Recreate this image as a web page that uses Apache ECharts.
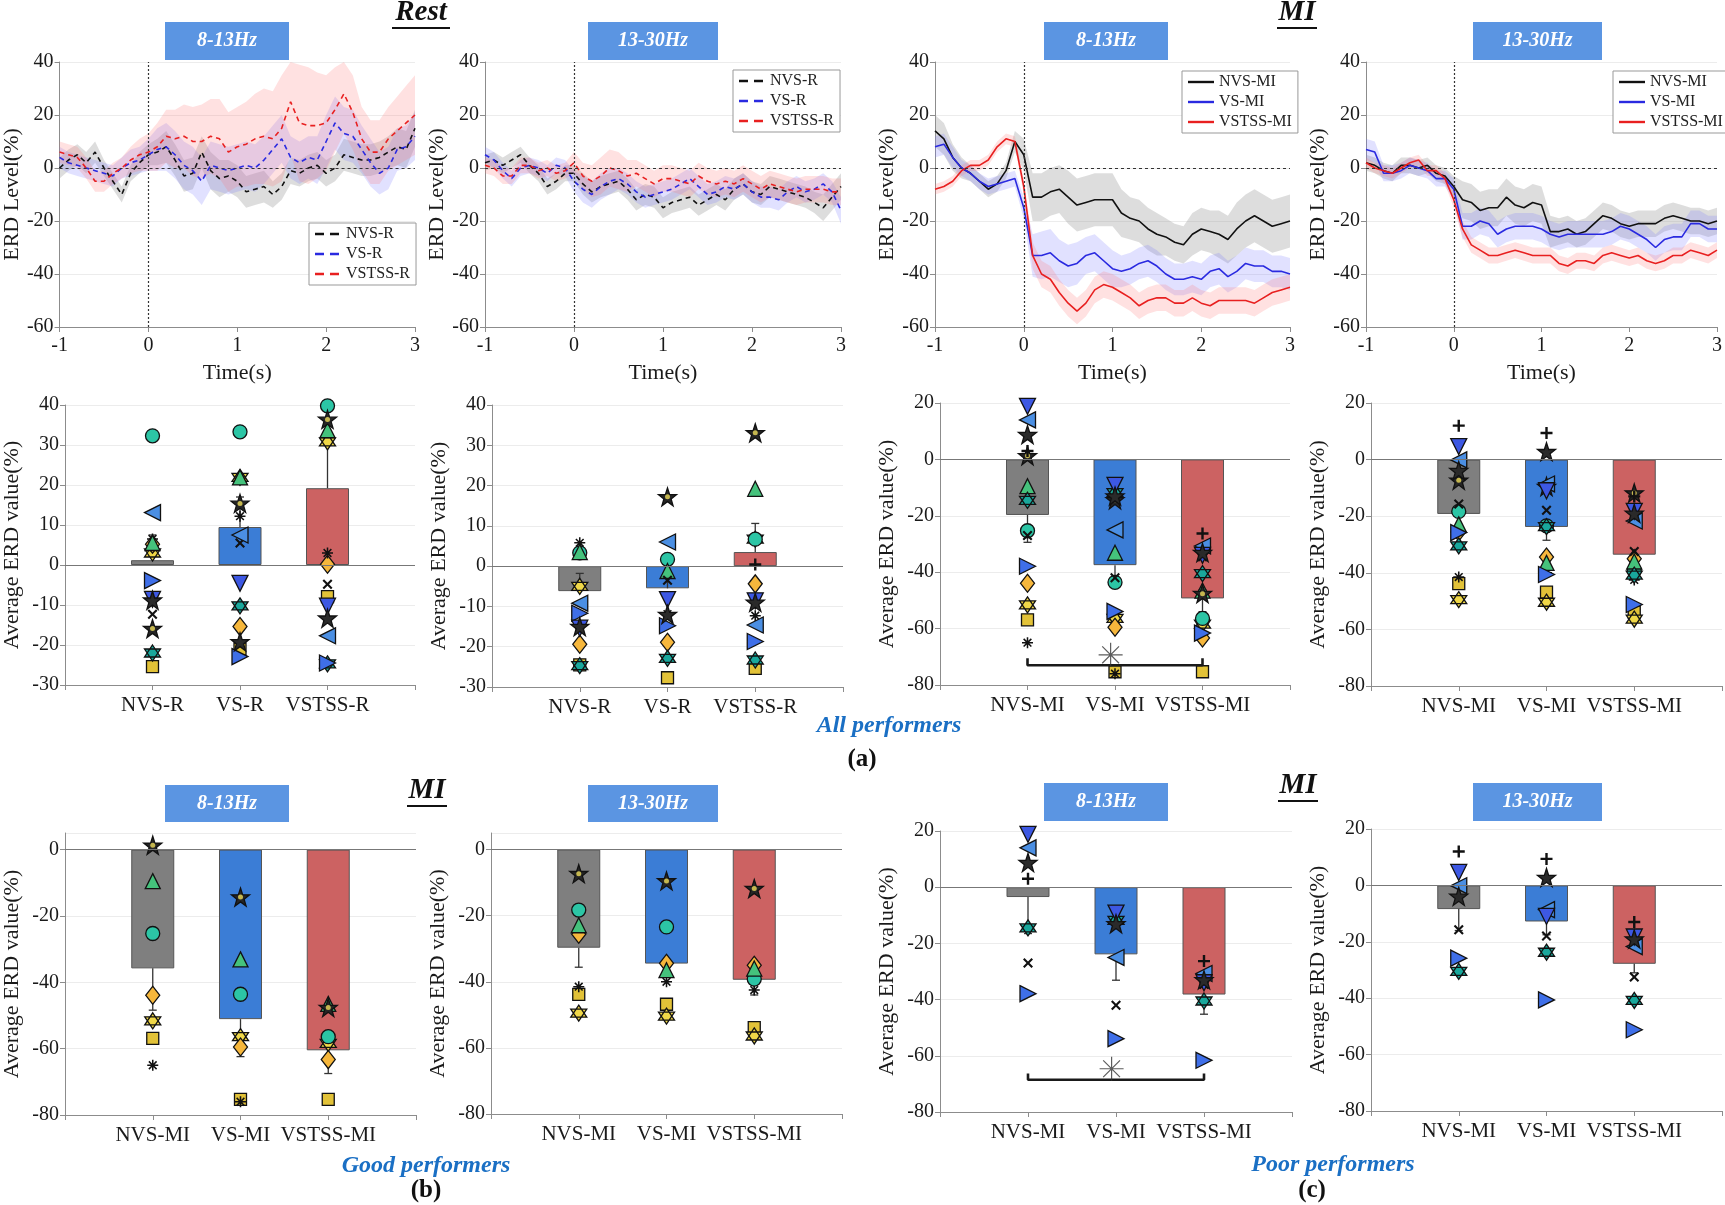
<!DOCTYPE html>
<html>
<head>
<meta charset="utf-8">
<script src="https://cdn.jsdelivr.net/npm/echarts@6/dist/echarts.min.js"></script>
<style>
  html, body { margin: 0; background: #fff; }
  #main { width: 1725px; height: 1205px; }
</style>
</head>
<body>
<div id="main"></div>
<script>
var SERIF = 'Liberation Serif';

// ---- time courses (ERD %), sampled every 0.1 s from -1 to 3 s ----
var times = [-1,-0.9,-0.8,-0.7,-0.6,-0.5,-0.4,-0.3,-0.2,-0.1, 0,
  0.1,0.2,0.3,0.4,0.5,0.6,0.7,0.8,0.9,1, 1.1,1.2,1.3,1.4,1.5,1.6,1.7,1.8,1.9,2,
  2.1,2.2,2.3,2.4,2.5,2.6,2.7,2.8,2.9,3];

var restAlphaNVS   = [0,3,5,2,6,0,-5,-10,-2,2, 5, 6,8,3,-3,-2,6,-1,-4,-3,-5, -9,-8,-7,-10,-7,-1,-2,0,1,-2, 0,5,4,3,3,4,6,8,7,15];
var restAlphaVS    = [4,2,1,0,-1,-2,-3,0,2,3, 5, 7,8,5,1,-1,-5,1,0,-1,0, 1,0,3,7,11,4,2,4,3,10, 17,13,12,7,2,-2,0,7,8,12];
var restAlphaVSTSS = [6,5,4,0,-5,-5,-2,0,3,5, 6, 8,12,11,12,10,10,12,11,6,8, 9,11,12,11,15,25,17,16,16,17, 22,28,21,11,6,6,11,14,17,20];
var restAlphaBandNVS   = [4,4,4,4,4,3,3,3,3,4, 4, 5,6,6,6,6,6,7,7,6,6, 6,6,6,5,5,5,5,5,5,5, 5,6,6,6,6,6,6,7,7,7];
var restAlphaBandVS    = [4,4,4,4,4,4,4,4,5,5, 6, 8,9,9,9,9,9,9,9,9,9, 9,9,9,9,9,8,8,8,9,10, 10,10,10,9,9,8,8,8,8,9];
var restAlphaBandVSTSS = [4,4,4,4,4,4,4,4,5,6, 7, 9,10,11,12,13,14,14,15,15,15, 16,17,18,18,20,20,22,22,20,18, 16,15,14,12,12,12,12,13,14,15];

var restBetaNVS   = [2,3,1,3,5,1,-2,-7,-5,-2, -2, -6,-9,-7,-6,-5,-8,-12,-10,-11,-15, -13,-12,-11,-14,-12,-10,-12,-8,-6,-9, -10,-7,-8,-9,-10,-11,-13,-15,-11,-7];
var restBetaVS    = [5,3,-1,-4,0,1,0,-2,1,0, -5, -8,-10,-7,-5,-4,-6,-9,-11,-10,-9, -8,-6,-4,-7,-10,-9,-7,-8,-6,-9, -11,-11,-12,-9,-7,-9,-8,-6,-9,-16];
var restBetaVSTSS = [1,0,-3,-3,1,1,-1,0,-2,-1, 2, -3,-5,-3,0,-1,-3,-2,-4,-6,-4, -4,-5,-6,-3,-5,-6,-5,-6,-4,-6, -8,-6,-7,-8,-9,-8,-8,-8,-9,-9];
var restBetaBandNVS   = [3,3,3,3,3,3,3,3,3,3, 3, 4,4,4,4,4,4,4,4,4,4, 4,4,4,4,4,4,4,4,4,4, 4,4,4,4,4,4,4,5,5,5];
var restBetaBandVS    = [3,3,3,3,3,3,3,3,3,3, 4, 5,5,5,5,4,4,4,4,4,4, 4,4,4,4,4,4,4,4,4,4, 4,4,4,4,4,4,4,4,4,5];
var restBetaBandVSTSS = [3,3,3,3,3,3,3,3,3,3, 4, 5,6,7,7,7,6,5,5,5,5, 5,5,5,5,5,5,5,5,5,5, 5,5,5,5,5,5,5,5,5,5];

var miAlphaNVS   = [14,11,4,0,-2,-5,-8,-6,-1,10, 5, -11,-11,-9,-8,-11,-14,-13,-12,-12,-12, -17,-19,-20,-23,-25,-26,-28,-29,-25,-23, -24,-25,-27,-23,-20,-18,-20,-22,-21,-20];
var miAlphaVS    = [8,9,4,0,-2,-5,-7,-6,-5,-4, -15, -33,-33,-32,-35,-37,-36,-33,-32,-35,-38, -39,-38,-36,-35,-37,-40,-42,-42,-41,-42, -39,-38,-41,-39,-36,-37,-37,-39,-39,-40];
var miAlphaVSTSS = [-8,-7,-5,-1,1,1,3,8,11,10, -7, -33,-40,-42,-47,-51,-54,-51,-46,-44,-45, -47,-49,-52,-50,-49,-49,-51,-51,-49,-51, -52,-50,-50,-50,-50,-51,-49,-47,-46,-45];
var miAlphaBandNVS   = [6,6,5,4,3,3,3,3,3,4, 6, 9,9,9,9,10,10,10,10,10,10, 9,8,8,8,8,7,7,7,8,8, 8,9,9,10,10,10,10,10,10,10];
var miAlphaBandVS    = [4,4,4,3,3,3,3,3,3,3, 4, 8,9,9,8,8,8,7,7,7,7, 6,6,6,6,6,6,6,6,6,6, 6,6,6,6,6,6,6,6,6,6];
var miAlphaBandVSTSS = [2,2,2,2,2,2,2,2,2,2, 3, 5,5,5,5,5,5,5,5,5,5, 5,5,5,5,5,5,5,5,5,5, 5,5,5,5,5,5,5,5,5,5];

var miBetaNVS   = [2,1,-1,-2,1,1,0,1,-2,-3, -7, -12,-13,-16,-15,-15,-11,-14,-15,-13,-14, -24,-24,-23,-25,-24,-21,-18,-19,-21,-22, -21,-21,-21,-19,-18,-19,-20,-20,-21,-20];
var miBetaVS    = [7,6,-2,-2,-1,1,0,-1,-4,-4, -8, -22,-22,-20,-21,-25,-23,-22,-22,-22,-23, -25,-26,-25,-25,-25,-25,-25,-24,-22,-23, -25,-27,-30,-27,-26,-26,-21,-21,-23,-23];
var miBetaVSTSS = [2,0,-1,-2,0,2,3,-1,-1,-4, -12, -23,-29,-31,-33,-33,-32,-31,-32,-33,-33, -33,-36,-37,-35,-35,-36,-33,-32,-33,-34, -33,-35,-36,-35,-33,-33,-31,-32,-33,-31];
var miBetaBandNVS   = [3,3,3,3,3,3,3,3,3,3, 4, 7,7,7,7,7,7,7,7,7,7, 6,5,5,5,5,5,5,5,5,5, 5,5,5,5,5,5,5,5,5,5];
var miBetaBandVS    = [4,4,3,3,3,3,3,3,3,3, 4, 5,5,5,5,5,5,5,5,5,5, 5,5,5,5,5,5,5,5,5,5, 5,5,5,5,5,5,5,5,5,5];
var miBetaBandVSTSS = [2,2,2,2,2,2,2,2,2,2, 3, 3,3,3,3,3,3,3,3,3,3, 3,3,3,3,3,3,3,3,3,3, 3,3,3,3,3,3,3,3,3,3];

// ---- average ERD per condition (bars), whisker end values ----
var restLabels = ['NVS-R', 'VS-R', 'VSTSS-R'];
var miLabels = ['NVS-MI', 'VS-MI', 'VSTSS-MI'];

var restAlphaMean = [1.2, 9.5, 19.2],      restAlphaErr = [7.5, 17, 30.8];
var restBetaMean  = [-6.2, -5.5, 3.5],     restBetaErr  = [-1.8, -1.5, 10.6];
var allAlphaMean  = [-19.7, -37.5, -49.3], allAlphaErr  = [-29.4, -42.5, -54];
var allBetaMean   = [-19.2, -23.8, -33.6], allBetaErr   = [-24, -28.5, -38];
var goodAlphaMean = [-35.8, -51.1, -60.5], goodAlphaErr = [-48.4, -62.4, -67.5];
var goodBetaMean  = [-29.7, -34.5, -39.4], goodBetaErr  = [-35.6, -38.5, -44];
var poorAlphaMean = [-3.5, -23.9, -38.2],  poorAlphaErr = [-16.5, -33.1, -45.2];
var poorBetaMean  = [-8.4, -12.8, -27.8],  poorBetaErr  = [-16, -17.5, -31];

// ---- individual subjects: [NVS, VS, VSTSS] ----
var restAlphaPts = {
  circle: [32.3, 33.3, 39.8], triUp: [5.5, 21.9, 33.7], starY: [-15.9, 15.4, 36.4],
  hexY: [3, 21.9, 30.8], diamond: [5.2, -15.4, 0.2], square: [-25.4, -21, -7.9],
  asterisk: [6.5, 12.2, 3], triLeft: [13.1, 7.5, -17.7], triRight: [-3.9, -22.9, -24.5],
  triDown: [-8.6, -4.6, -10.3], starK: [-8.8, -19.2, -13.3], cross: [-12.3, 5.5, -4.8],
  hexT: [-22, -10.2, -24.7]
};
var restBetaPts = {
  circle: [3.3, 1.7, 6.7], triUp: [3.5, -1.2, 19.2], starY: [null, 17.2, 33.1],
  hexY: [-5, null, 6.7], diamond: [-19.4, -18.9, -4.4], square: [-24.5, -27.7, -25.4],
  asterisk: [5.8, -11.9, -12.3], triLeft: [-9.2, 6, -14.6], triRight: [-11.7, -14.8, -18.7],
  triDown: [-15.4, -8.3, -8.6], starK: [-15, -12, -9], cross: [null, -3.5, null],
  hexT: [-24.7, -22.9, -23.3], plus: [null, null, 0.4]
};
var goodAlphaPts = {
  starY: [1.3, -14.3, -47.6], triUp: [-9.5, -33.1, -46.5], circle: [-25.3, -43.6, -56.4],
  diamond: [-43.9, -59.5, -63.3], hexY: [-51.6, -56.4, -58.4], square: [-56.9, -75.3, -75.3],
  asterisk: [-65, -76, -47.5]
};
var goodBetaPts = {
  starY: [-7.3, -9.5, -11.8], triUp: [-22.9, -36.5, -36], circle: [-18.3, -23.4, -39.2],
  diamond: [-25.6, -34.4, -35], hexY: [-49.5, -50.4, -56.4], square: [-43.8, -46.8, -53.9],
  asterisk: [-41.5, -40, -42.5]
};
var poorAlphaPts = {
  plus: [3, -12, -26.3], triDown: [18.8, -9.2, -34], triLeft: [14, -25, -30.7],
  starK: [8.8, -13, -33], cross: [-27, -42, -34.5], triRight: [-37.9, -53.9, -61.6],
  hexT: [-14.5, -11.8, -40.5]
};
var poorBetaPts = {
  plus: [12, 9.4, -13], triDown: [4.6, -11, -18.3], triLeft: [-0.1, -8.6, -21.7],
  starK: [-3.9, 2.8, -19], cross: [-15.7, -17.9, -32.5], triRight: [-25.8, -40.6, -51.2],
  hexT: [-30.5, -23.7, -40.8]
};

// significance brackets (NVS vs VSTSS)
var allAlphaSig  = { low: -73, tip: -70.5, star: -69.3 };
var poorAlphaSig = { low: -68.5, tip: -66.3, star: -64.6 };

// ---- styles ----
var PATHS = {
  triDown: 'path://M0,0L10,0L5,9Z',
  triLeft: 'path://M9,0L9,10L0,5Z',
  triRight: 'path://M0,0L9,5L0,10Z',
  star: 'path://M5,0L6.2,3.6L10,3.6L7,5.9L8.1,9.5L5,7.3L1.9,9.5L3,5.9L0,3.6L3.8,3.6Z',
  hex: 'path://M5,0L9.33,7.5L0.67,7.5Z M5,10L0.67,2.5L9.33,2.5Z',
  cross: 'path://M0,1.5L1.5,0L5,3.5L8.5,0L10,1.5L6.5,5L10,8.5L8.5,10L5,6.5L1.5,10L0,8.5L3.5,5Z',
  plus: 'path://M4,0H6V4H10V6H6V10H4V6H0V4H4Z',
  asterisk: 'path://M4.3,0H5.7V4.3H10V5.7H5.7V10H4.3V5.7H0V4.3H4.3Z M1,2L2,1L5,4L8,1L9,2L6,5L9,8L8,9L5,6L2,9L1,8L4,5Z',
  spark: 'path://M5,0L5,10M0,5L10,5M1.5,1.5L8.5,8.5M8.5,1.5L1.5,8.5'
};
var LEGEND_SOLID = 'path://M0,0H26V2.4H0Z';
var LEGEND_DASH = 'path://M0,0H9V2.4H0Z M15,0H24V2.4H15Z M26,0H26.01V2.4H26Z';

var subjStyle = {
  circle:   { symbol: 'circle', size: 14, color: '#2cc5a5' },
  triUp:    { symbol: 'triangle', size: 15, color: '#45c27c' },
  starY:    { symbol: PATHS.star, size: 18, color: '#262626', dot: '#eedc5a' },
  hexY:     { symbol: PATHS.hex, size: 16, color: '#f0d848' },
  diamond:  { symbol: 'diamond', size: [14, 18], color: '#f6b73c' },
  square:   { symbol: 'rect', size: 12, color: '#e2c238' },
  asterisk: { symbol: PATHS.asterisk, size: 11, color: '#111', bw: 0 },
  plus:     { symbol: PATHS.plus, size: 12, color: '#111', bw: 0 },
  triDown:  { symbol: PATHS.triDown, size: 16, color: '#3d58e3' },
  triLeft:  { symbol: PATHS.triLeft, size: 16, color: '#4b8fe3' },
  triRight: { symbol: PATHS.triRight, size: 16, color: '#3f6fe8' },
  starK:    { symbol: PATHS.star, size: 18, color: '#2a2a2a' },
  cross:    { symbol: PATHS.cross, size: 10, color: '#111', bw: 0 },
  hexT:     { symbol: PATHS.hex, size: 16, color: '#19a89c' }
};
var subjOrder = ['square','hexY','diamond','asterisk','circle','triUp','starY',
                 'cross','plus','hexT','triRight','triLeft','triDown','starK'];
var barColors = ['#7f7f7f', '#3b7dd6', '#cc6262'];
var lineColors = ['#111111', '#2a2ae0', '#e82020'];
var bandColors = ['rgba(150,150,150,0.32)', 'rgba(120,120,255,0.22)', 'rgba(255,120,120,0.22)'];

var grids = [], xAxes = [], yAxes = [], series = [], legends = [], graphics = [];

function axisLine() { return { show: true, onZero: false, lineStyle: { color: '#8c8c8c', width: 1 } }; }
function axisTick() { return { show: true, length: 5, lineStyle: { color: '#8c8c8c' } }; }
function labelFont(extra) {
  var o = { color: '#1a1a1a', fontFamily: SERIF, fontSize: 20 };
  for (var k in extra) o[k] = extra[k];
  return o;
}
var nameFont = { color: '#1a1a1a', fontFamily: SERIF, fontSize: 22 };

function addLinePanel(box, lines, bands, names, dashed, legendPos) {
  var gi = grids.length;
  grids.push({ left: box[0], top: box[1], width: box[2], height: box[3] });
  xAxes.push({
    gridIndex: gi, type: 'value', min: -1, max: 3, interval: 1,
    name: 'Time(s)', nameLocation: 'middle', nameGap: 35, nameTextStyle: nameFont,
    axisLine: axisLine(), axisTick: axisTick(), splitLine: { show: false },
    axisLabel: labelFont({ margin: 9 })
  });
  yAxes.push({
    gridIndex: gi, type: 'value', min: -60, max: 40, interval: 20,
    name: 'ERD Level(%)', nameLocation: 'middle', nameGap: 36, nameTextStyle: nameFont,
    axisLine: axisLine(), axisTick: axisTick(),
    splitLine: { lineStyle: { color: '#ececec' } },
    axisLabel: labelFont({ margin: 6 })
  });
  lines.forEach(function (arr, k) {
    var hw = bands[k];
    series.push({
      type: 'custom', xAxisIndex: gi, yAxisIndex: gi, silent: true, z: 1,
      data: times.map(function (t, i) { return [t, arr[i]]; }),
      renderItem: function (params, api) {
        if (params.dataIndex !== 0) return null;
        var up = [], lo = [];
        for (var i = 0; i < times.length; i++) {
          up.push(api.coord([times[i], Math.min(40, arr[i] + hw[i])]));
          lo.push(api.coord([times[i], Math.max(-60, arr[i] - hw[i])]));
        }
        return { type: 'polygon', shape: { points: up.concat(lo.reverse()) },
                 style: { fill: bandColors[k] } };
      }
    });
  });
  lines.forEach(function (arr, k) {
    var s = {
      type: 'line', name: names[k], xAxisIndex: gi, yAxisIndex: gi, z: 3,
      symbol: 'none', showSymbol: false,
      data: times.map(function (t, i) { return [t, arr[i]]; }),
      lineStyle: { color: lineColors[k], width: 1.6, type: dashed ? [5, 4] : 'solid' },
      itemStyle: { color: lineColors[k] }
    };
    if (k === 0) {
      s.markLine = {
        silent: true, symbol: ['none', 'none'], label: { show: false },
        data: [
          { yAxis: 0, lineStyle: { type: [3, 3], color: '#333', width: 1 } },
          { xAxis: 0, lineStyle: { type: [2, 2], color: '#333', width: 1.2 } }
        ]
      };
    }
    series.push(s);
  });
  legends.push({
    left: legendPos[0], top: legendPos[1], orient: 'vertical',
    data: names.map(function (n) { return { name: n, icon: dashed ? LEGEND_DASH : LEGEND_SOLID }; }),
    itemWidth: 26, itemHeight: 14, itemGap: 4, padding: [3, 6, 3, 6],
    borderColor: '#999', borderWidth: 1, backgroundColor: '#fff', selectedMode: false,
    textStyle: { fontFamily: SERIF, fontSize: 16, color: '#222' }
  });
}

function addBarPanel(box, yr, labels, means, errs, pts, sig) {
  var gi = grids.length;
  grids.push({ left: box[0], top: box[1], width: box[2], height: box[3] });
  xAxes.push({
    gridIndex: gi, type: 'value', min: 0, max: 4, interval: 1,
    axisLine: axisLine(), axisTick: axisTick(), splitLine: { show: false },
    axisLabel: labelFont({ fontSize: 21, margin: 10, formatter: function (v) { return labels[v - 1] || ''; } })
  });
  yAxes.push({
    gridIndex: gi, type: 'value', min: yr[0], max: yr[1], interval: yr[2],
    name: 'Average ERD value(%)', nameLocation: 'middle', nameGap: 42, nameTextStyle: nameFont,
    axisLine: axisLine(), axisTick: axisTick(),
    splitLine: { lineStyle: { color: '#ececec' } },
    axisLabel: labelFont({ margin: 6, showMaxLabel: yr[3] })
  });
  series.push({
    type: 'bar', xAxisIndex: gi, yAxisIndex: gi, barWidth: 43, z: 2,
    data: means.map(function (m, i) {
      return { value: [i + 1, m], itemStyle: { color: barColors[i] } };
    }),
    itemStyle: { borderColor: '#555', borderWidth: 1 },
    markLine: {
      silent: true, symbol: ['none', 'none'], label: { show: false },
      lineStyle: { type: 'solid', color: '#777', width: 1 },
      data: [{ yAxis: 0 }]
    }
  });
  series.push({
    type: 'custom', xAxisIndex: gi, yAxisIndex: gi, z: 3, silent: true,
    data: means.map(function (m, i) { return [i + 1, m, errs[i]]; }),
    renderItem: function (params, api) {
      var a = api.coord([api.value(0), api.value(1)]);
      var b = api.coord([api.value(0), api.value(2)]);
      var st = { stroke: '#333', lineWidth: 1.3 };
      return { type: 'group', children: [
        { type: 'line', shape: { x1: a[0], y1: a[1], x2: b[0], y2: b[1] }, style: st },
        { type: 'line', shape: { x1: b[0] - 4, y1: b[1], x2: b[0] + 4, y2: b[1] }, style: st }
      ] };
    }
  });
  subjOrder.forEach(function (key) {
    var vals = pts[key];
    if (!vals) return;
    var st = subjStyle[key];
    var data = [];
    vals.forEach(function (v, i) { if (v !== null) data.push([i + 1, v]); });
    series.push({
      type: 'scatter', xAxisIndex: gi, yAxisIndex: gi, z: 4, silent: true,
      symbol: st.symbol, symbolSize: st.size, data: data,
      itemStyle: { color: st.color, borderColor: '#111',
                   borderWidth: st.bw === undefined ? 1.3 : st.bw, opacity: 1 }
    });
    if (st.dot) {
      series.push({
        type: 'scatter', xAxisIndex: gi, yAxisIndex: gi, z: 4, silent: true,
        symbol: 'circle', symbolSize: 5, data: data,
        itemStyle: { color: st.dot, borderWidth: 0 }
      });
    }
  });
  if (sig) {
    series.push({
      type: 'line', xAxisIndex: gi, yAxisIndex: gi, z: 5, symbol: 'none', silent: true,
      data: [[1, sig.tip], [1, sig.low], [3, sig.low], [3, sig.tip]],
      lineStyle: { color: '#1a1a1a', width: 2.6 }
    });
    series.push({
      type: 'scatter', xAxisIndex: gi, yAxisIndex: gi, z: 5, silent: true,
      symbol: PATHS.spark, symbolSize: 24, data: [[1.95, sig.star]],
      itemStyle: { color: 'rgba(0,0,0,0)', borderColor: '#333', borderWidth: 1.2 }
    });
  }
}

function merge(a, b) {
  var o = {}, k;
  for (k in a) o[k] = a[k];
  for (k in b) o[k] = b[k];
  return o;
}

// ---- panels ----
addLinePanel([59, 62, 356, 265], [restAlphaNVS, restAlphaVS, restAlphaVSTSS],
  [restAlphaBandNVS, restAlphaBandVS, restAlphaBandVSTSS], restLabels, true, [309, 223]);
addLinePanel([485, 62, 356, 265], [restBetaNVS, restBetaVS, restBetaVSTSS],
  [restBetaBandNVS, restBetaBandVS, restBetaBandVSTSS], restLabels, true, [733, 70]);
addLinePanel([935, 62, 355, 265], [miAlphaNVS, miAlphaVS, miAlphaVSTSS],
  [miAlphaBandNVS, miAlphaBandVS, miAlphaBandVSTSS], miLabels, false, [1182, 71]);
addLinePanel([1366, 62, 356, 265], [miBetaNVS, miBetaVS, miBetaVSTSS],
  [miBetaBandNVS, miBetaBandVS, miBetaBandVSTSS], miLabels, false, [1613, 71]);

addBarPanel([65, 405, 350, 280], [-30, 40, 10, true], restLabels, restAlphaMean, restAlphaErr, restAlphaPts);
addBarPanel([492, 405, 351, 282], [-30, 40, 10, true], restLabels, restBetaMean, restBetaErr, restBetaPts);
addBarPanel([940, 403, 350, 282], [-80, 20, 20, true], miLabels, allAlphaMean, allAlphaErr,
  merge(goodAlphaPts, poorAlphaPts), allAlphaSig);
addBarPanel([1371, 403, 351, 283], [-80, 20, 20, true], miLabels, allBetaMean, allBetaErr,
  merge(goodBetaPts, poorBetaPts));

addBarPanel([65, 833, 351, 282], [-80, 5, 20, false], miLabels, goodAlphaMean, goodAlphaErr, goodAlphaPts);
addBarPanel([491, 833, 351, 281], [-80, 5, 20, false], miLabels, goodBetaMean, goodBetaErr, goodBetaPts);
addBarPanel([940, 831, 352, 281], [-80, 20, 20, true], miLabels, poorAlphaMean, poorAlphaErr, poorAlphaPts, poorAlphaSig);
addBarPanel([1371, 829, 351, 282], [-80, 20, 20, true], miLabels, poorBetaMean, poorBetaErr, poorBetaPts);

// ---- banners, titles, captions ----
function textStyle(txt, fill, font) {
  return { text: txt, fill: fill, font: font,
           align: 'center', verticalAlign: 'middle', textAlign: 'center', textVerticalAlign: 'middle' };
}
function banner(x, y, w, h, txt) {
  graphics.push({ type: 'rect', shape: { x: x, y: y, width: w, height: h }, style: { fill: '#5b95e2' }, z: 10 });
  graphics.push({ type: 'text', x: x + w / 2, y: y + h / 2, z: 11,
    style: textStyle(txt, '#fff', 'italic bold 20px "' + SERIF + '"') });
}
function title(cx, cy, txt, w) {
  graphics.push({ type: 'text', x: cx, y: cy, z: 11,
    style: textStyle(txt, '#111', 'italic bold 29px "' + SERIF + '"') });
  graphics.push({ type: 'rect', shape: { x: cx - w / 2, y: cy + 14, width: w, height: 2 }, style: { fill: '#111' }, z: 11 });
}
function caption(cx, cy, txt, italic, color, size) {
  graphics.push({ type: 'text', x: cx, y: cy, z: 11,
    style: textStyle(txt, color, (italic ? 'italic ' : '') + 'bold ' + size + 'px "' + SERIF + '"') });
}

banner(165, 22, 124, 38, '8-13Hz');
banner(588, 22, 130, 38, '13-30Hz');
banner(1044, 22, 124, 38, '8-13Hz');
banner(1473, 22, 129, 38, '13-30Hz');
banner(165, 785, 124, 37, '8-13Hz');
banner(588, 785, 130, 37, '13-30Hz');
banner(1044, 783, 124, 38, '8-13Hz');
banner(1473, 783, 129, 38, '13-30Hz');

title(421, 13, 'Rest', 58);
title(1297, 13, 'MI', 40);
title(427, 791, 'MI', 40);
title(1298, 786, 'MI', 40);

caption(889, 726, 'All performers', true, '#1a6fc4', 24);
caption(862, 760, '(a)', false, '#111', 25);
caption(426, 1166, 'Good performers', true, '#1a6fc4', 24);
caption(426, 1191, '(b)', false, '#111', 25);
caption(1333, 1165, 'Poor performers', true, '#1a6fc4', 24);
caption(1312, 1191, '(c)', false, '#111', 25);

var chart = echarts.init(document.getElementById('main'));
chart.setOption({
  backgroundColor: '#fff',
  animation: false,
  grid: grids,
  xAxis: xAxes,
  yAxis: yAxes,
  legend: legends,
  series: series,
  graphic: graphics
});
</script>
</body>
</html>
